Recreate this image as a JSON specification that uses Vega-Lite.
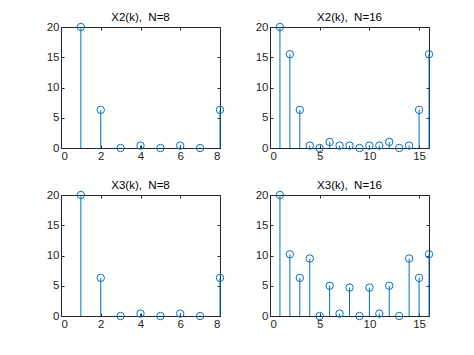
{
  "$schema": "https://vega.github.io/schema/vega-lite/v6.json",
  "autosize": "none",
  "padding": {"left": 61, "top": 27, "right": 413, "bottom": 328},
  "background": "white",
  "config": {
    "view": {"stroke": "#262626", "strokeWidth": 1},
    "font": "Liberation Sans",
    "axis": {
      "grid": false,
      "domainColor": "#262626",
      "tickColor": "#262626",
      "labelColor": "#262626",
      "labelFont": "Liberation Sans",
      "labelFontSize": 11.5,
      "tickSize": -3,
      "labelPadding": 5,
      "title": null
    },
    "title": {"fontSize": 11.5, "fontWeight": "normal", "color": "#000000", "font": "Liberation Sans", "offset": -2, "baseline": "alphabetic"}
  },
  "data": {"values": [
    {"p": "a", "k": 1, "v": 20}, {"p": "a", "k": 2, "v": 6.3}, {"p": "a", "k": 3, "v": 0}, {"p": "a", "k": 4, "v": 0.4},
    {"p": "a", "k": 5, "v": 0}, {"p": "a", "k": 6, "v": 0.4}, {"p": "a", "k": 7, "v": 0}, {"p": "a", "k": 8, "v": 6.3},
    {"p": "b", "k": 1, "v": 20}, {"p": "b", "k": 2, "v": 15.5}, {"p": "b", "k": 3, "v": 6.3}, {"p": "b", "k": 4, "v": 0.4},
    {"p": "b", "k": 5, "v": 0}, {"p": "b", "k": 6, "v": 1.0}, {"p": "b", "k": 7, "v": 0.4}, {"p": "b", "k": 8, "v": 0.4},
    {"p": "b", "k": 9, "v": 0}, {"p": "b", "k": 10, "v": 0.4}, {"p": "b", "k": 11, "v": 0.4}, {"p": "b", "k": 12, "v": 1.0},
    {"p": "b", "k": 13, "v": 0}, {"p": "b", "k": 14, "v": 0.4}, {"p": "b", "k": 15, "v": 6.3}, {"p": "b", "k": 16, "v": 15.5},
    {"p": "c", "k": 1, "v": 20}, {"p": "c", "k": 2, "v": 6.3}, {"p": "c", "k": 3, "v": 0}, {"p": "c", "k": 4, "v": 0.4},
    {"p": "c", "k": 5, "v": 0}, {"p": "c", "k": 6, "v": 0.4}, {"p": "c", "k": 7, "v": 0}, {"p": "c", "k": 8, "v": 6.3},
    {"p": "d", "k": 1, "v": 20}, {"p": "d", "k": 2, "v": 10.2}, {"p": "d", "k": 3, "v": 6.3}, {"p": "d", "k": 4, "v": 9.5},
    {"p": "d", "k": 5, "v": 0}, {"p": "d", "k": 6, "v": 5.0}, {"p": "d", "k": 7, "v": 0.4}, {"p": "d", "k": 8, "v": 4.7},
    {"p": "d", "k": 9, "v": 0}, {"p": "d", "k": 10, "v": 4.7}, {"p": "d", "k": 11, "v": 0.4}, {"p": "d", "k": 12, "v": 5.0},
    {"p": "d", "k": 13, "v": 0}, {"p": "d", "k": 14, "v": 9.5}, {"p": "d", "k": 15, "v": 6.3}, {"p": "d", "k": 16, "v": 10.2}
  ]},
  "columns": 2,
  "spacing": {"row": 47, "column": 50},
  "bounds": "flush",
  "concat": [
    {
      "title": "X2(k),\u00a0 N=8",
      "width": 159, "height": 121,
      "transform": [{"filter": "datum.p === 'a'"}],
      "layer": [
        {"mark": {"type": "rule", "color": "#0072BD", "strokeWidth": 1},
         "encoding": {
           "x": {"field": "k", "type": "quantitative", "scale": {"domain": [0, 8], "nice": false}, "axis": {"values": [0, 2, 4, 6, 8]}},
           "y": {"field": "v", "type": "quantitative", "scale": {"domain": [0, 20], "nice": false}, "axis": {"values": [0, 5, 10, 15, 20]}},
           "y2": {"datum": 0}}},
        {"mark": {"type": "point", "shape": "circle", "filled": false, "color": "#0072BD", "size": 55, "strokeWidth": 1, "opacity": 1},
         "encoding": {"x": {"field": "k", "type": "quantitative", "axis": null}, "y": {"field": "v", "type": "quantitative", "axis": null}}},
        {"mark": {"type": "point", "opacity": 0},
         "encoding": {
           "x": {"field": "k", "type": "quantitative", "axis": {"orient": "top", "values": [0, 2, 4, 6, 8], "labels": false, "domain": false}},
           "y": {"field": "v", "type": "quantitative", "axis": {"orient": "right", "values": [0, 5, 10, 15, 20], "labels": false, "domain": false}}}}
      ],
      "resolve": {"axis": {"x": "independent", "y": "independent"}}
    },
    {
      "title": "X2(k),\u00a0 N=16",
      "width": 159, "height": 121,
      "transform": [{"filter": "datum.p === 'b'"}],
      "layer": [
        {"mark": {"type": "rule", "color": "#0072BD", "strokeWidth": 1},
         "encoding": {
           "x": {"field": "k", "type": "quantitative", "scale": {"domain": [0, 16], "nice": false}, "axis": {"values": [0, 5, 10, 15]}},
           "y": {"field": "v", "type": "quantitative", "scale": {"domain": [0, 20], "nice": false}, "axis": {"values": [0, 5, 10, 15, 20]}},
           "y2": {"datum": 0}}},
        {"mark": {"type": "point", "shape": "circle", "filled": false, "color": "#0072BD", "size": 55, "strokeWidth": 1, "opacity": 1},
         "encoding": {"x": {"field": "k", "type": "quantitative", "axis": null}, "y": {"field": "v", "type": "quantitative", "axis": null}}},
        {"mark": {"type": "point", "opacity": 0},
         "encoding": {
           "x": {"field": "k", "type": "quantitative", "axis": {"orient": "top", "values": [0, 5, 10, 15], "labels": false, "domain": false}},
           "y": {"field": "v", "type": "quantitative", "axis": {"orient": "right", "values": [0, 5, 10, 15, 20], "labels": false, "domain": false}}}}
      ],
      "resolve": {"axis": {"x": "independent", "y": "independent"}}
    },
    {
      "title": "X3(k),\u00a0 N=8",
      "width": 159, "height": 121,
      "transform": [{"filter": "datum.p === 'c'"}],
      "layer": [
        {"mark": {"type": "rule", "color": "#0072BD", "strokeWidth": 1},
         "encoding": {
           "x": {"field": "k", "type": "quantitative", "scale": {"domain": [0, 8], "nice": false}, "axis": {"values": [0, 2, 4, 6, 8]}},
           "y": {"field": "v", "type": "quantitative", "scale": {"domain": [0, 20], "nice": false}, "axis": {"values": [0, 5, 10, 15, 20]}},
           "y2": {"datum": 0}}},
        {"mark": {"type": "point", "shape": "circle", "filled": false, "color": "#0072BD", "size": 55, "strokeWidth": 1, "opacity": 1},
         "encoding": {"x": {"field": "k", "type": "quantitative", "axis": null}, "y": {"field": "v", "type": "quantitative", "axis": null}}},
        {"mark": {"type": "point", "opacity": 0},
         "encoding": {
           "x": {"field": "k", "type": "quantitative", "axis": {"orient": "top", "values": [0, 2, 4, 6, 8], "labels": false, "domain": false}},
           "y": {"field": "v", "type": "quantitative", "axis": {"orient": "right", "values": [0, 5, 10, 15, 20], "labels": false, "domain": false}}}}
      ],
      "resolve": {"axis": {"x": "independent", "y": "independent"}}
    },
    {
      "title": "X3(k),\u00a0 N=16",
      "width": 159, "height": 121,
      "transform": [{"filter": "datum.p === 'd'"}],
      "layer": [
        {"mark": {"type": "rule", "color": "#0072BD", "strokeWidth": 1},
         "encoding": {
           "x": {"field": "k", "type": "quantitative", "scale": {"domain": [0, 16], "nice": false}, "axis": {"values": [0, 5, 10, 15]}},
           "y": {"field": "v", "type": "quantitative", "scale": {"domain": [0, 20], "nice": false}, "axis": {"values": [0, 5, 10, 15, 20]}},
           "y2": {"datum": 0}}},
        {"mark": {"type": "point", "shape": "circle", "filled": false, "color": "#0072BD", "size": 55, "strokeWidth": 1, "opacity": 1},
         "encoding": {"x": {"field": "k", "type": "quantitative", "axis": null}, "y": {"field": "v", "type": "quantitative", "axis": null}}},
        {"mark": {"type": "point", "opacity": 0},
         "encoding": {
           "x": {"field": "k", "type": "quantitative", "axis": {"orient": "top", "values": [0, 5, 10, 15], "labels": false, "domain": false}},
           "y": {"field": "v", "type": "quantitative", "axis": {"orient": "right", "values": [0, 5, 10, 15, 20], "labels": false, "domain": false}}}}
      ],
      "resolve": {"axis": {"x": "independent", "y": "independent"}}
    }
  ]
}
